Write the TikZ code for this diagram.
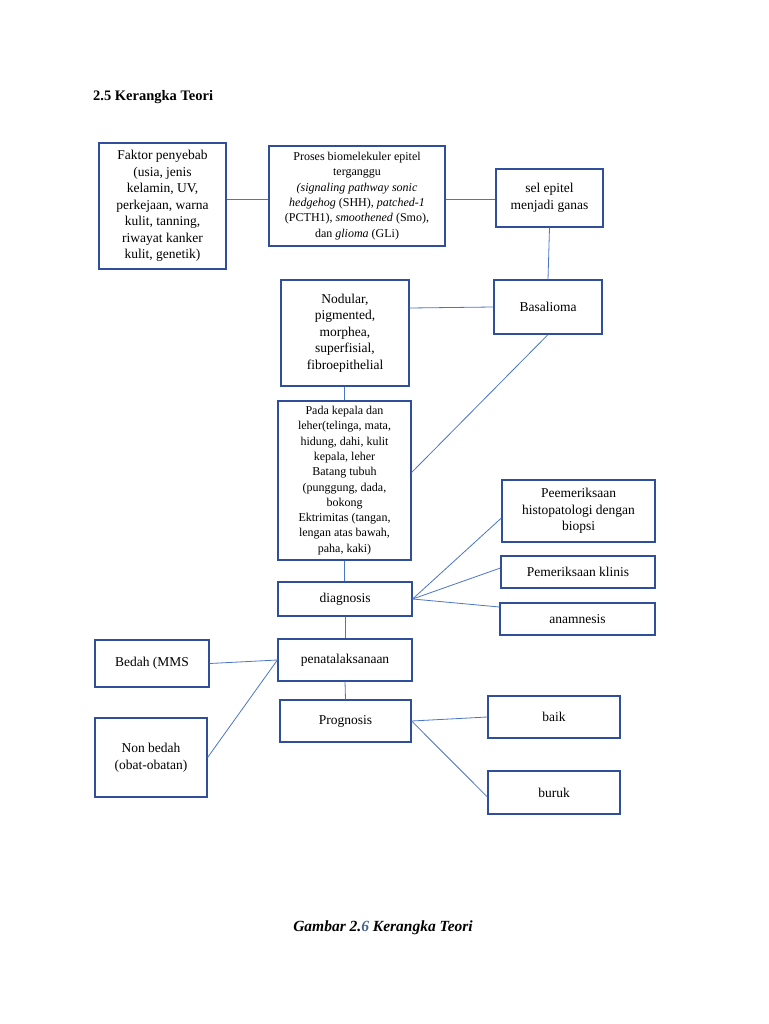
\documentclass[tikz,border=0pt]{standalone}
\usepackage{fontspec}
\setmainfont{Liberation Serif}
\definecolor{boxc}{HTML}{2F4E9C}
\definecolor{linec}{HTML}{4A76C8}
\definecolor{capblue}{HTML}{44638F}
\begin{document}
\begin{tikzpicture}[x=1pt,y=-1pt,
  bx/.style={draw=boxc,line width=1.2pt,inner sep=0pt,align=center,fill=white},
  big/.style={font=\fontsize{13.5}{16.5}\selectfont},
  small/.style={font=\fontsize{12}{15.3}\selectfont},
  ln/.style={draw=linec,line width=0.8pt}]
\useasboundingbox (0,0) rectangle (768,1024);
\fill[white] (0,0) rectangle (768,1024);
\node[anchor=base west,inner sep=0pt,font=\fontsize{14.5}{17}\selectfont\bfseries] (head) at (93,101) {2.5 Kerangka Teori};

\node[bx,big,minimum width=127,minimum height=126] (faktor) at (162.5,206) {Faktor penyebab\\(usia, jenis\\kelamin, UV,\\perkejaan, warna\\kulit, tanning,\\riwayat kanker\\kulit, genetik)};
\node[bx,small,minimum width=176,minimum height=100] (proses) at (357,196) {Proses biomelekuler epitel\\terganggu\\\textit{(signaling pathway sonic}\\\textit{hedgehog} (SHH), \textit{patched-1}\\(PCTH1), \textit{smoothened} (Smo),\\dan \textit{glioma} (GLi)};
\node[bx,big,minimum width=107,minimum height=58] (sel) at (549.5,198) {sel epitel\\menjadi ganas};
\node[bx,big,minimum width=108,minimum height=54] (basal) at (548,307) {Basalioma};
\node[bx,big,minimum width=128,minimum height=106] (nod) at (345,333) {Nodular,\\pigmented,\\morphea,\\superfisial,\\fibroepithelial};
\node[bx,small,minimum width=133,minimum height=159] (pada) at (344.5,480.5) {Pada kepala dan\\leher(telinga, mata,\\hidung, dahi, kulit\\kepala, leher\\Batang tubuh\\(punggung, dada,\\bokong\\Ektrimitas (tangan,\\lengan atas bawah,\\paha, kaki)};
\node[bx,big,minimum width=153,minimum height=62] (peem) at (578.5,511) {Peemeriksaan\\histopatologi dengan\\biopsi};
\node[bx,big,minimum width=154,minimum height=32] (klinis) at (578,572) {Pemeriksaan klinis};
\node[bx,big,minimum width=155,minimum height=32] (anam) at (577.5,619) {anamnesis};
\node[bx,big,minimum width=134,minimum height=34] (diag) at (345,599) {diagnosis};
\node[bx,big,minimum width=134,minimum height=42] (pena) at (345,660) {penatalaksanaan};
\node[bx,big,minimum width=114,minimum height=47] (bedah) at (152,663.5) {Bedah (MMS};
\node[bx,big,minimum width=112,minimum height=79] (non) at (151,757.5) {Non bedah\\(obat-obatan)};
\node[bx,big,minimum width=131,minimum height=42] (prog) at (345.5,721) {Prognosis};
\node[bx,big,minimum width=132,minimum height=42] (baik) at (554,717) {baik};
\node[bx,big,minimum width=132,minimum height=43] (buruk) at (554,792.5) {buruk};

\node[font=\fontsize{15.5}{18}\selectfont\bfseries\itshape] (cap) at (383,928) {Gambar 2.\textcolor{capblue}{6} Kerangka Teori};

\draw[ln] ([yshift=7]faktor.east) -- ([yshift=-3]proses.west);
\draw[ln] ([yshift=-3]proses.east) -- ([yshift=-1]sel.west);
\draw[ln] (sel.south) -- (basal.north);
\draw[ln] ([yshift=25]nod.east) -- (basal.west);
\draw[ln] (basal.south) -- ([yshift=8]pada.east);
\draw[ln] (nod.south -| pada.north) -- (pada.north);
\draw[ln] (pada.south) -- (pada.south |- diag.north);
\draw[ln] (diag.east) -- ([yshift=-7]peem.west);
\draw[ln] (diag.east) -- ([yshift=4]klinis.west);
\draw[ln] (diag.east) -- ([yshift=12]anam.west);
\draw[ln] (diag.south) -- (pena.north);
\draw[ln] (pena.west) -- (bedah.east);
\draw[ln] (pena.west) -- (non.east);
\draw[ln] (pena.south) -- (prog.north);
\draw[ln] (prog.east) -- (baik.west);
\draw[ln] (prog.east) -- ([yshift=-4.5]buruk.west);
\end{tikzpicture}
\end{document}
